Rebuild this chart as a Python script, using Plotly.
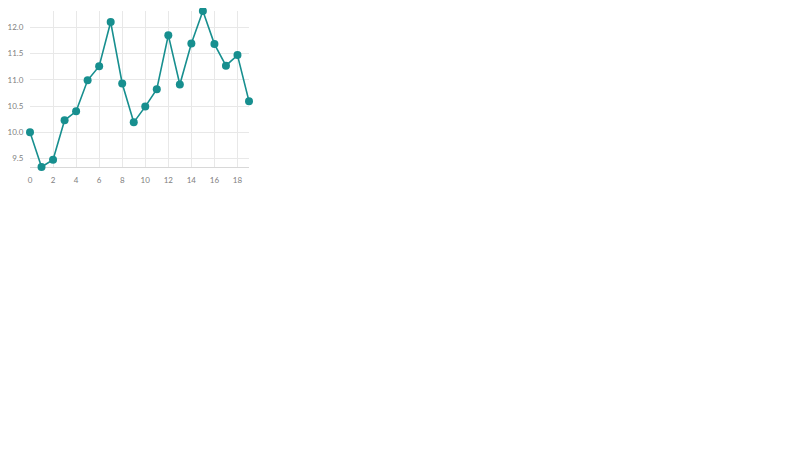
import plotly.graph_objects as go

# data
x_vals = list(range(20))
y_vals = [10.0, 9.34, 9.48, 10.23, 10.40, 10.99, 11.26, 12.10, 10.93, 10.19,
          10.49, 10.82, 11.85, 10.91, 11.69, 12.31, 11.68, 11.27, 11.47, 10.59]
x_ticks = list(range(0, 20, 2))
y_ticks = [9.5, 10.0, 10.5, 11.0, 11.5, 12.0]

teal = '#178f8f'

fig = go.Figure()
fig.add_trace(go.Scatter(
    x=x_vals,
    y=y_vals,
    mode='lines+markers',
    line=dict(color=teal, width=1.6),
    marker=dict(color=teal, size=8),
    cliponaxis=False,
))

# page body has an 8px margin, so plot margins are shifted by it
fig.update_layout(
    width=800,
    height=450,
    margin=dict(l=22, r=559, t=3, b=291),
    paper_bgcolor='white',
    plot_bgcolor='white',
    showlegend=False,
    font=dict(family='Lato, sans-serif', size=8, color='#808080'),
    xaxis=dict(
        range=[0, 19],
        tickvals=x_ticks,
        ticktext=[str(t) for t in x_ticks],
        showgrid=True,
        gridcolor='#e8e8e8',
        gridwidth=1,
        zeroline=False,
        showline=True,
        linecolor='#d8d8d8',
        ticks='outside',
        ticklen=5,
        tickcolor='rgba(0,0,0,0)',
        layer='below traces',
        automargin=False,
    ),
    yaxis=dict(
        range=[min(y_vals), max(y_vals)],
        tickvals=y_ticks,
        ticktext=['%.1f' % t for t in y_ticks],
        showgrid=True,
        gridcolor='#e8e8e8',
        gridwidth=1,
        zeroline=False,
        showline=False,
        ticks='outside',
        ticklen=4,
        tickcolor='rgba(0,0,0,0)',
        layer='below traces',
        automargin=False,
    ),
)

fig.write_html("out.html")
